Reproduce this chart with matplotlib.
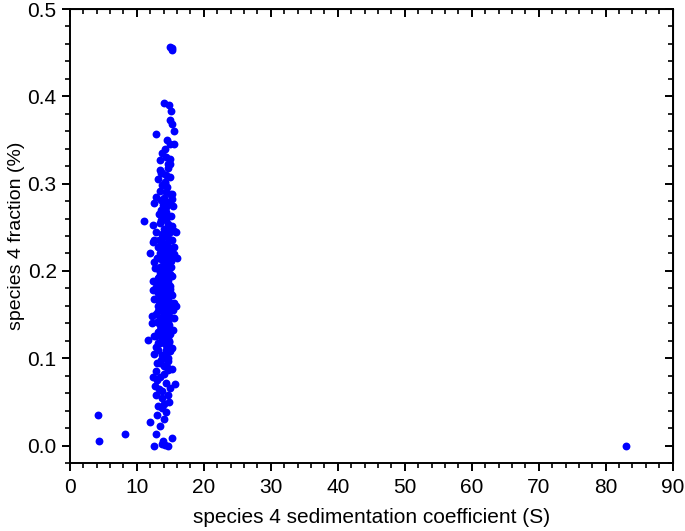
import matplotlib.pyplot as plt
from matplotlib.ticker import MultipleLocator

plt.rcParams['font.family'] = ['Liberation Sans', 'DejaVu Sans']

# outliers
out_x = [4.2, 4.3, 8.2, 83.0]
out_y = [0.035, 0.005, 0.013, 0.0]

# main cluster (x in S, y in %)
clu_x = [12.6, 13.8, 14.6, 13.9, 12.8, 15.2, 14.2,
         11.9, 13.0, 14.0, 14.4, 13.5,
         13.2, 14.8, 13.7, 14.1, 12.9,
         12.4, 15.7, 13.3, 14.3, 13.8, 14.9, 13.0,
         12.8, 14.5, 13.4, 14.0, 15.2, 13.6, 14.7,
         12.6, 13.2, 13.9, 14.4, 15.0, 13.5, 14.8, 12.9,
         11.7, 12.5, 13.1, 13.7, 14.2, 14.9, 15.4, 13.4, 14.6,
         12.3, 13.0, 13.5, 13.9, 14.3, 14.7, 15.1, 15.5, 13.2, 14.0, 14.5, 12.8,
         12.6, 13.1, 13.6, 14.0, 14.4, 14.8, 15.2, 15.6, 13.3, 14.2, 14.9, 13.8,
         12.4, 12.9, 13.4, 13.8, 14.1, 14.5, 14.9, 15.3, 13.6, 14.3, 15.0, 13.1,
         12.5, 13.0, 13.5, 13.9, 14.3, 14.7, 15.1, 15.5, 13.7, 14.5, 14.0, 12.7,
         12.6, 13.2, 13.7, 14.1, 14.5, 14.9, 15.3, 13.9, 14.4, 15.6, 13.4, 11.9,
         11.0, 12.4, 12.9, 13.5, 14.0, 14.4, 14.8, 15.2, 13.8, 14.6, 15.5,
         12.5, 13.3, 13.9, 14.3, 14.7, 15.1, 14.0, 15.4, 13.6,
         12.9, 13.5, 14.1, 14.5, 14.9, 15.3, 13.8, 14.3,
         13.2, 13.8, 14.2, 14.6, 15.0, 14.4, 13.5,
         13.5, 14.3, 13.8, 14.9, 14.2, 14.6,
         14.5, 15.0, 15.6, 12.8, 15.5, 15.0, 15.2, 15.1, 14.8, 14.0,
         14.9, 15.2, 15.3,
         13.6, 14.1, 14.7, 13.3, 14.4, 15.0, 13.9, 14.2, 14.8, 13.5, 14.6, 15.3,
         13.7, 14.3, 14.0, 15.1, 13.4, 14.5, 14.9, 13.8, 14.2, 15.4, 13.6, 14.7,
         12.4, 12.4, 16.0, 15.8, 15.9, 12.2,
         13.1, 13.9, 14.6, 15.2, 13.4, 14.1, 14.8, 13.7, 14.4, 15.0, 13.2, 14.0,
         14.7, 13.5, 14.3, 15.1, 13.8, 14.5, 13.3, 14.2, 14.9, 13.6, 14.4, 15.3,
         13.0, 13.8, 14.6, 13.4, 14.1, 14.8, 13.7, 15.0, 14.3, 13.9, 14.6, 13.5,
         14.2, 14.9, 13.6, 14.4, 15.2, 13.3, 14.0, 14.7, 13.8, 14.5, 13.1, 14.8,
         12.7, 13.4, 14.0, 14.6, 13.7, 14.3, 12.9, 13.6, 14.2, 14.9]
clu_y = [0.000, 0.002, 0.000, 0.005, 0.013, 0.009, 0.001,
         0.027, 0.035, 0.030, 0.038, 0.022,
         0.045, 0.050, 0.055, 0.048, 0.058,
         0.079, 0.070, 0.065, 0.072, 0.062, 0.066, 0.075,
         0.085, 0.090, 0.095, 0.082, 0.088, 0.098, 0.097,
         0.105, 0.110, 0.102, 0.115, 0.108, 0.118, 0.120, 0.113,
         0.121, 0.125, 0.130, 0.122, 0.135, 0.128, 0.132, 0.138, 0.124,
         0.148, 0.142, 0.155, 0.145, 0.152, 0.141, 0.158, 0.146, 0.160, 0.158, 0.143, 0.151,
         0.168, 0.175, 0.162, 0.171, 0.178, 0.165, 0.172, 0.163, 0.166, 0.162, 0.179, 0.177,
         0.188, 0.182, 0.195, 0.185, 0.198, 0.189, 0.183, 0.194, 0.200, 0.181, 0.197, 0.192,
         0.210, 0.215, 0.205, 0.218, 0.208, 0.213, 0.204, 0.219, 0.212, 0.202, 0.206, 0.203,
         0.235, 0.228, 0.238, 0.225, 0.232, 0.222, 0.236, 0.231, 0.240, 0.227, 0.221, 0.220,
         0.257, 0.253, 0.245, 0.255, 0.248, 0.258, 0.243, 0.251, 0.242, 0.254, 0.246,
         0.278, 0.265, 0.276, 0.268, 0.279, 0.263, 0.262, 0.274, 0.270,
         0.285, 0.292, 0.283, 0.296, 0.288, 0.282, 0.298, 0.290,
         0.305, 0.312, 0.302, 0.318, 0.308, 0.310, 0.316,
         0.327, 0.330, 0.335, 0.328, 0.340, 0.322,
         0.350, 0.345, 0.345, 0.357, 0.360, 0.373, 0.368, 0.383, 0.390, 0.392,
         0.457, 0.455, 0.453,
         0.140, 0.150, 0.170, 0.185, 0.195, 0.175, 0.225, 0.245, 0.205, 0.265, 0.190, 0.215,
         0.120, 0.110, 0.130, 0.160, 0.200, 0.230, 0.250, 0.270, 0.180, 0.155, 0.145, 0.100,
         0.233, 0.178, 0.215, 0.160, 0.245, 0.140,
         0.118, 0.126, 0.134, 0.112, 0.146, 0.152, 0.138, 0.168, 0.174, 0.156, 0.184, 0.192,
         0.186, 0.199, 0.207, 0.211, 0.224, 0.229, 0.236, 0.241, 0.217, 0.258, 0.262, 0.288,
         0.095, 0.104, 0.086, 0.132, 0.165, 0.148, 0.182, 0.176, 0.196, 0.214, 0.222, 0.172,
         0.247, 0.236, 0.281, 0.273, 0.226, 0.193, 0.201, 0.167, 0.158, 0.139, 0.154, 0.119,
         0.068, 0.078, 0.091, 0.058, 0.043, 0.106, 0.125, 0.312, 0.301, 0.322]

fig = plt.figure(figsize=(6.85, 5.31), dpi=100)
ax = fig.add_axes([0.102, 0.128, 0.880, 0.855])

ax.scatter(clu_x + out_x, clu_y + out_y, s=32, c="#0000ff", linewidths=0, zorder=3)

ax.set_xlim(0, 90)
ax.set_ylim(-0.02, 0.5)
ax.xaxis.set_major_locator(MultipleLocator(10))
ax.xaxis.set_minor_locator(MultipleLocator(2))
ax.yaxis.set_major_locator(MultipleLocator(0.1))
ax.yaxis.set_minor_locator(MultipleLocator(0.02))

for s in ax.spines.values():
    s.set_linewidth(1.4)
ax.tick_params(axis="both", which="major", direction="out", length=6, width=1.4,
               labelsize=15)
ax.tick_params(axis="x", which="major", pad=5)
ax.tick_params(axis="both", which="minor", direction="out", length=3.5, width=1.2)

# mirrored ticks on top/right pointing inward
sec_x = ax.secondary_xaxis("top")
sec_x.xaxis.set_major_locator(MultipleLocator(10))
sec_x.xaxis.set_minor_locator(MultipleLocator(2))
sec_x.tick_params(which="major", direction="in", length=6, width=1.4, labeltop=False)
sec_x.tick_params(which="minor", direction="in", length=3.5, width=1.2)
sec_y = ax.secondary_yaxis("right")
sec_y.yaxis.set_major_locator(MultipleLocator(0.1))
sec_y.yaxis.set_minor_locator(MultipleLocator(0.02))
sec_y.tick_params(which="major", direction="in", length=6, width=1.4, labelright=False)
sec_y.tick_params(which="minor", direction="in", length=3.5, width=1.2)

ax.xaxis.set_major_formatter(plt.FuncFormatter(lambda v, p: "%d" % v))
ax.yaxis.set_major_formatter(plt.FuncFormatter(lambda v, p: "%.1f" % v))
ax.set_xlabel("species 4 sedimentation coefficient (S)", fontsize=15)
ax.set_ylabel("species 4 fraction (%)", fontsize=14)
ax.xaxis.set_label_coords(0.5, -0.098)
ax.yaxis.set_label_coords(-0.074, 0.5)

fig.savefig("out.png", dpi=100)
